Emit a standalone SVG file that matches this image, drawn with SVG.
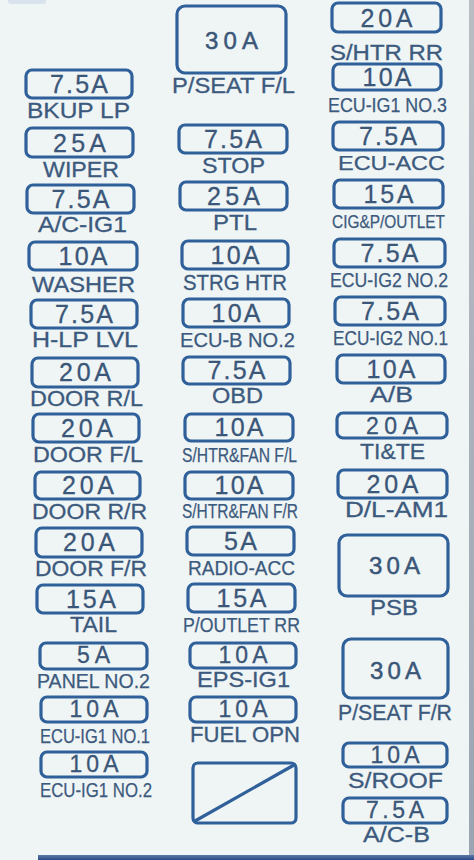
<svg xmlns="http://www.w3.org/2000/svg" width="474" height="860" viewBox="0 0 474 860">
<defs>
<style>
.box{fill:none;stroke:#2f609a;stroke-width:3.2}
.val{font-family:"Liberation Sans",Arial,sans-serif;font-size:25px;fill:#3a5678;stroke:#3a5678;stroke-width:0.3}
.v2{font-family:"Liberation Sans",Arial,sans-serif;font-size:23px;fill:#3a5678;stroke:#3a5678;stroke-width:0.3}
.big{font-family:"Liberation Sans",Arial,sans-serif;font-size:24px;fill:#3a5678;stroke:#3a5678;stroke-width:0.5}
.lbl{font-family:"Liberation Sans",Arial,sans-serif;font-size:22px;fill:#3c5a7d;stroke:#3c5a7d;stroke-width:0.3}
.sm{font-family:"Liberation Sans",Arial,sans-serif;font-size:20px;fill:#3c5a7d;stroke:#3c5a7d;stroke-width:0.25}
.xs{font-family:"Liberation Sans",Arial,sans-serif;font-size:18px;fill:#3c5a7d;stroke:#3c5a7d;stroke-width:0.25}
</style>
<linearGradient id="bar" x1="0" y1="0" x2="0" y2="1">
<stop offset="0" stop-color="#5b78a6"/>
<stop offset="1" stop-color="#2a4a86"/>
</linearGradient>
<linearGradient id="edge" x1="0" y1="0" x2="0" y2="1">
<stop offset="0" stop-color="#b9bec4"/>
<stop offset="1" stop-color="#9aa4b2"/>
</linearGradient>
</defs>
<rect x="0" y="0" width="474" height="860" fill="#eff4f5"/>
<rect x="469" y="0" width="5" height="860" fill="url(#edge)"/>
<rect x="38" y="855" width="436" height="5" fill="url(#bar)"/>
<rect x="8" y="-3" width="38" height="7" rx="3" fill="#d8e3ee"/>

<g id="connectors"/>

<!-- Left column -->
<g id="bkup-lp"><rect class="box" x="26" y="70" width="106" height="28" rx="6"/><text class="val" x="50" y="93" textLength="58">7.5A</text><text class="lbl" x="27" y="118" textLength="103" lengthAdjust="spacingAndGlyphs">BKUP LP</text></g>
<g id="wiper"><rect class="box" x="26" y="128" width="107" height="29" rx="6"/><text class="val" x="53" y="152" textLength="53">25A</text><text class="lbl" x="43" y="177" textLength="76" lengthAdjust="spacingAndGlyphs">WIPER</text></g>
<g id="ac-ig1"><rect class="box" x="27" y="185" width="107" height="28" rx="6"/><text class="val" x="51.5" y="208" textLength="58">7.5A</text><text class="lbl" x="38" y="232" textLength="89" lengthAdjust="spacingAndGlyphs">A/C-IG1</text></g>
<g id="washer"><rect class="box" x="29" y="242" width="108" height="28" rx="6"/><text class="val" x="58.5" y="265" textLength="49">10A</text><text class="lbl" x="32" y="292" textLength="103" lengthAdjust="spacingAndGlyphs">WASHER</text></g>
<g id="h-lp-lvl"><rect class="box" x="31" y="300" width="106" height="28" rx="6"/><text class="val" x="55" y="323" textLength="58">7.5A</text><text class="lbl" x="32" y="347" textLength="106" lengthAdjust="spacingAndGlyphs">H-LP LVL</text></g>
<g id="door-rl"><rect class="box" x="32" y="358" width="106" height="29" rx="6"/><text class="val" x="59" y="381" textLength="52">20A</text><text class="lbl" x="30" y="406" textLength="113" lengthAdjust="spacingAndGlyphs">DOOR R/L</text></g>
<g id="door-fl"><rect class="box" x="33" y="414" width="106" height="28" rx="6"/><text class="val" x="61" y="437" textLength="52">20A</text><text class="lbl" x="33" y="462" textLength="110" lengthAdjust="spacingAndGlyphs">DOOR F/L</text></g>
<g id="door-rr"><rect class="box" x="35" y="472" width="105" height="27" rx="6"/><text class="val" x="62" y="494" textLength="52">20A</text><text class="lbl" x="32" y="519" textLength="115" lengthAdjust="spacingAndGlyphs">DOOR R/R</text></g>
<g id="door-fr"><rect class="box" x="36" y="528" width="106" height="29" rx="6"/><text class="val" x="63" y="551" textLength="52">20A</text><text class="lbl" x="35" y="576" textLength="112" lengthAdjust="spacingAndGlyphs">DOOR F/R</text></g>
<g id="tail"><rect class="box" x="37" y="585" width="106" height="28" rx="6"/><text class="val" x="66" y="608" textLength="50">15A</text><text class="lbl" x="70" y="632" textLength="47" lengthAdjust="spacingAndGlyphs">TAIL</text></g>
<g id="panel-no2"><rect class="box" x="40" y="643" width="107" height="26" rx="6"/><text class="v2" x="77" y="663" textLength="33">5A</text><text class="sm" x="37" y="688" textLength="113" lengthAdjust="spacingAndGlyphs">PANEL NO.2</text></g>
<g id="ecu-ig1-no1"><rect class="box" x="41" y="697" width="106" height="25" rx="6"/><text class="v2" x="69.5" y="717" textLength="49">10A</text><text class="sm" x="40" y="743" textLength="110" lengthAdjust="spacingAndGlyphs">ECU-IG1 NO.1</text></g>
<g id="ecu-ig1-no2"><rect class="box" x="41" y="752" width="106" height="25" rx="6"/><text class="v2" x="69.5" y="772" textLength="49">10A</text><text class="sm" x="40" y="797" textLength="112" lengthAdjust="spacingAndGlyphs">ECU-IG1 NO.2</text></g>

<!-- Middle column -->
<g id="pseat-fl"><rect class="box" x="177" y="6" width="109" height="67" rx="8"/><text class="big" x="205" y="49" textLength="53">30A</text><text class="lbl" x="172" y="93" textLength="123" lengthAdjust="spacingAndGlyphs">P/SEAT F/L</text></g>
<g id="stop"><rect class="box" x="179" y="125" width="108" height="28" rx="6"/><text class="val" x="204" y="148" textLength="58">7.5A</text><text class="lbl" x="202" y="173" textLength="63" lengthAdjust="spacingAndGlyphs">STOP</text></g>
<g id="ptl"><rect class="box" x="180" y="182" width="107" height="28" rx="6"/><text class="val" x="207" y="205" textLength="53">25A</text><text class="lbl" x="213" y="230" textLength="44" lengthAdjust="spacingAndGlyphs">PTL</text></g>
<g id="strg-htr"><rect class="box" x="182" y="241" width="106" height="28" rx="6"/><text class="val" x="210.5" y="264" textLength="49">10A</text><text class="lbl" x="183" y="290" textLength="104" lengthAdjust="spacingAndGlyphs">STRG HTR</text></g>
<g id="ecu-b-no2"><rect class="box" x="183" y="299" width="106" height="28" rx="6"/><text class="val" x="211.5" y="322" textLength="49">10A</text><text class="sm" x="180" y="347" textLength="115" lengthAdjust="spacingAndGlyphs">ECU-B NO.2</text></g>
<g id="obd"><rect class="box" x="183" y="357" width="107" height="27" rx="6"/><text class="val" x="207.5" y="379" textLength="58">7.5A</text><text class="lbl" x="212" y="403" textLength="51" lengthAdjust="spacingAndGlyphs">OBD</text></g>
<g id="shtr-fan-fl"><rect class="box" x="185" y="414" width="108" height="27" rx="6"/><text class="val" x="214.5" y="436" textLength="49">10A</text><text class="sm" x="182" y="462" textLength="115" lengthAdjust="spacingAndGlyphs">S/HTR&amp;FAN F/L</text></g>
<g id="shtr-fan-fr"><rect class="box" x="185" y="472" width="108" height="27" rx="6"/><text class="val" x="214.5" y="494" textLength="49">10A</text><text class="sm" x="182" y="518" textLength="116" lengthAdjust="spacingAndGlyphs">S/HTR&amp;FAN F/R</text></g>
<g id="radio-acc"><rect class="box" x="187" y="527" width="107" height="28" rx="6"/><text class="val" x="224" y="550" textLength="33">5A</text><text class="sm" x="188" y="575" textLength="107" lengthAdjust="spacingAndGlyphs">RADIO-ACC</text></g>
<g id="poutlet-rr"><rect class="box" x="188" y="584" width="107" height="28" rx="6"/><text class="val" x="216.5" y="607" textLength="50">15A</text><text class="sm" x="183" y="632" textLength="117" lengthAdjust="spacingAndGlyphs">P/OUTLET RR</text></g>
<g id="eps-ig1"><rect class="box" x="190" y="643" width="106" height="25" rx="6"/><text class="v2" x="218.5" y="663" textLength="49">10A</text><text class="lbl" x="197" y="687" textLength="93" lengthAdjust="spacingAndGlyphs">EPS-IG1</text></g>
<g id="fuel-opn"><rect class="box" x="190" y="697" width="106" height="25" rx="6"/><text class="v2" x="218.5" y="717" textLength="49">10A</text><text class="lbl" x="190" y="742" textLength="110" lengthAdjust="spacingAndGlyphs">FUEL OPN</text></g>
<g id="spare"><rect class="box" x="193" y="763" width="103" height="60" rx="5"/><line x1="195" y1="821" x2="294" y2="765" stroke="#2f609a" stroke-width="3.2"/></g>

<!-- Right column -->
<g id="shtr-rr"><rect class="box" x="332" y="3" width="109" height="29" rx="6"/><text class="val" x="360.5" y="27" textLength="52">20A</text><text class="lbl" x="330" y="60" textLength="113" lengthAdjust="spacingAndGlyphs">S/HTR RR</text></g>
<g id="ecu-ig1-no3"><rect class="box" x="333" y="64" width="108" height="26" rx="6"/><text class="val" x="362.5" y="86" textLength="49">10A</text><text class="sm" x="328" y="112" textLength="119" lengthAdjust="spacingAndGlyphs">ECU-IG1 NO.3</text></g>
<g id="ecu-acc"><rect class="box" x="333" y="122" width="110" height="28" rx="6"/><text class="val" x="359" y="145" textLength="58">7.5A</text><text class="sm" x="338" y="170" textLength="107" lengthAdjust="spacingAndGlyphs">ECU-ACC</text></g>
<g id="cig-poutlet"><rect class="box" x="334" y="180" width="109" height="28" rx="6"/><text class="val" x="363.5" y="203" textLength="50">15A</text><text class="xs" x="332" y="228" textLength="113" lengthAdjust="spacingAndGlyphs">CIG&amp;P/OUTLET</text></g>
<g id="ecu-ig2-no2"><rect class="box" x="334" y="239" width="111" height="28" rx="6"/><text class="val" x="360.5" y="262" textLength="58">7.5A</text><text class="sm" x="330" y="287" textLength="118" lengthAdjust="spacingAndGlyphs">ECU-IG2 NO.2</text></g>
<g id="ecu-ig2-no1"><rect class="box" x="335" y="297" width="110" height="28" rx="6"/><text class="val" x="361" y="320" textLength="58">7.5A</text><text class="sm" x="333" y="345" textLength="115" lengthAdjust="spacingAndGlyphs">ECU-IG2 NO.1</text></g>
<g id="ab"><rect class="box" x="337" y="355" width="108" height="28" rx="6"/><text class="val" x="366.5" y="378" textLength="49">10A</text><text class="lbl" x="370" y="402" textLength="43" lengthAdjust="spacingAndGlyphs">A/B</text></g>
<g id="ti-te"><rect class="box" x="337" y="413" width="110" height="25" rx="6"/><text class="v2" x="366" y="434" textLength="52">20A</text><text class="lbl" x="360" y="459" textLength="65" lengthAdjust="spacingAndGlyphs">TI&amp;TE</text></g>
<g id="dl-am1"><rect class="box" x="338" y="470" width="109" height="28" rx="6"/><text class="val" x="366.5" y="493" textLength="52">20A</text><text class="lbl" x="345" y="517" textLength="103" lengthAdjust="spacingAndGlyphs">D/L-AM1</text></g>
<g id="psb"><rect class="box" x="339" y="535" width="109" height="61" rx="8"/><text class="big" x="369" y="574" textLength="51">30A</text><text class="lbl" x="370" y="615" textLength="48" lengthAdjust="spacingAndGlyphs">PSB</text></g>
<g id="pseat-fr"><rect class="box" x="343" y="639" width="105" height="59" rx="8"/><text class="big" x="370" y="679" textLength="51">30A</text><text class="lbl" x="338" y="720" textLength="114" lengthAdjust="spacingAndGlyphs">P/SEAT F/R</text></g>
<g id="sroof"><rect class="box" x="343" y="743" width="104" height="24" rx="6"/><text class="v2" x="370.5" y="763" textLength="49">10A</text><text class="lbl" x="348" y="788" textLength="95" lengthAdjust="spacingAndGlyphs">S/ROOF</text></g>
<g id="ac-b"><rect class="box" x="343" y="798" width="104" height="25" rx="6"/><text class="v2" x="366" y="818" textLength="58">7.5A</text><text class="lbl" x="363" y="842" textLength="67" lengthAdjust="spacingAndGlyphs">A/C-B</text></g>
</svg>
